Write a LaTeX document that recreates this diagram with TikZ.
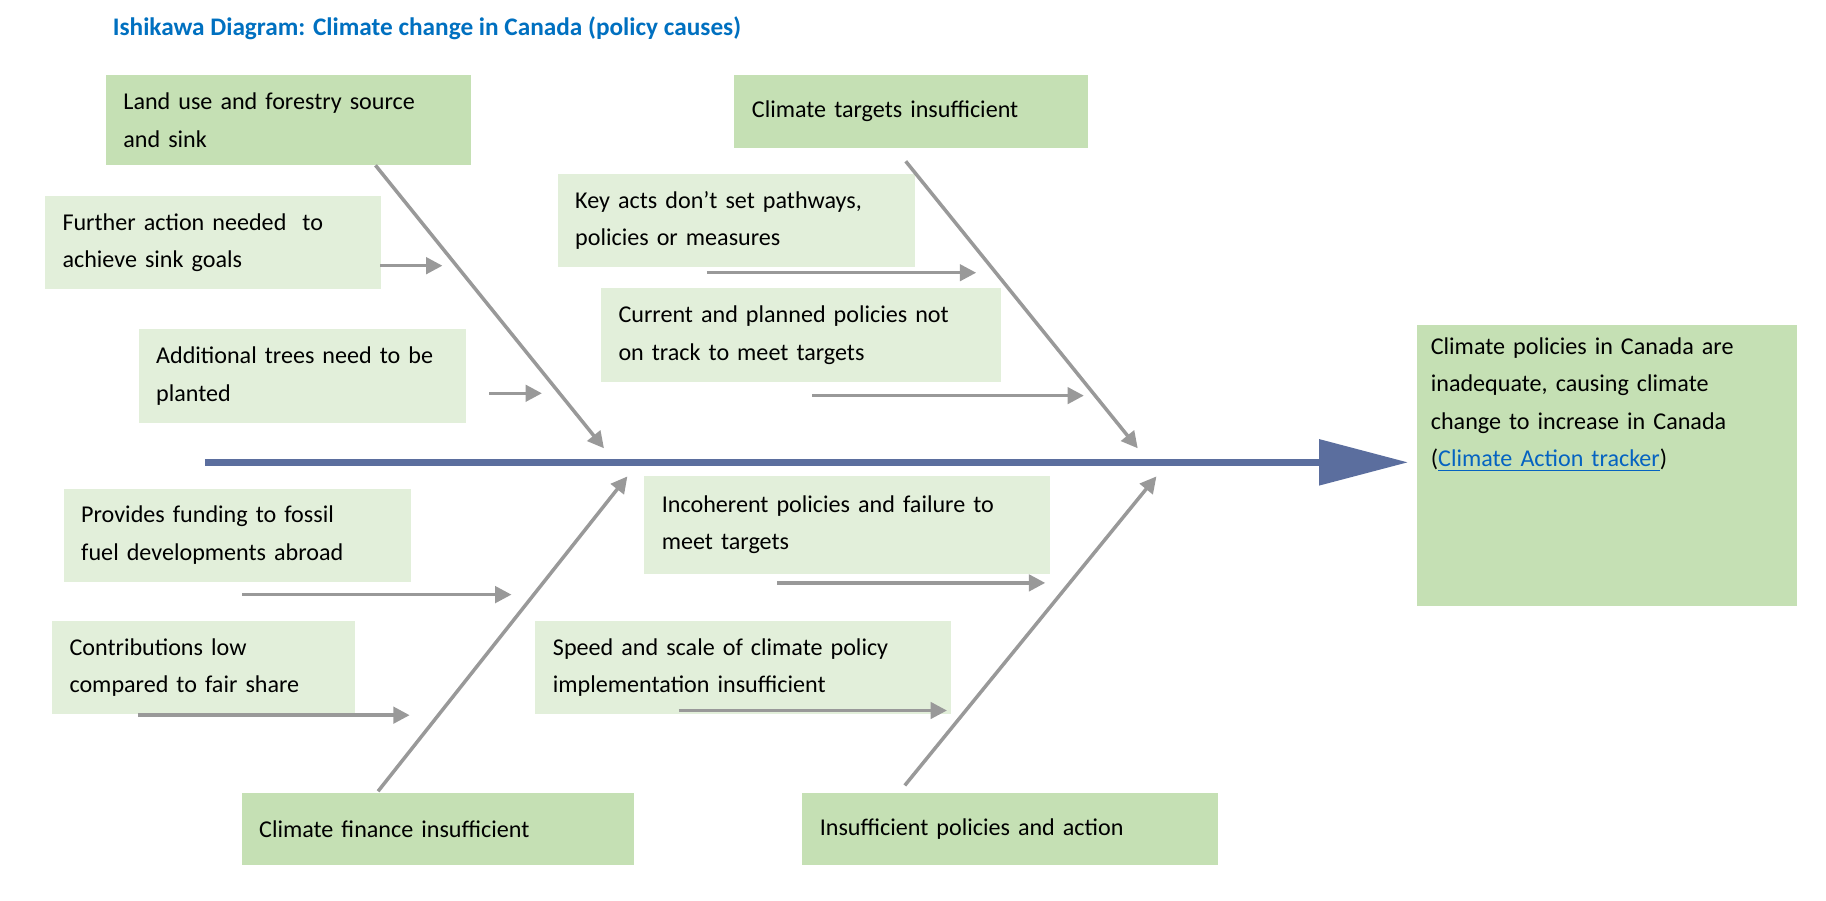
\documentclass[tikz,border=0pt]{standalone}
\usepackage{fontspec}
\setmainfont{Carlito}
\usetikzlibrary{arrows.meta, positioning}
\definecolor{darkgreen}{HTML}{C5E0B4}
\definecolor{lightgreen}{HTML}{E2EFDA}
\definecolor{spineblue}{HTML}{5B6E9E}
\definecolor{bonegray}{HTML}{999999}
\definecolor{titleblue}{HTML}{0070C0}
\definecolor{linkblue}{HTML}{0563C1}
\tikzset{
  cause/.style={fill=lightgreen, anchor=north west, inner sep=7.5pt, align=left,
    font=\fontsize{10.3}{16}\selectfont},
  main cause/.style={cause, fill=darkgreen},
  bone/.style={draw=bonegray, line width=1.5pt, -{Triangle[length=7pt,width=7pt]}},
}
\newcommand{\link}[1]{\textcolor{linkblue}{\underline{#1}}}
\begin{document}
\begin{tikzpicture}[x=0.5pt,y=-0.5pt]
            \useasboundingbox (0,0) rectangle (1560,769);
            \node[anchor=west, font=\fontsize{10.8}{13}\selectfont\bfseries, text=titleblue, inner sep=0] (title) at (96,24) {Ishikawa Diagram: Climate change in Canada (policy causes)};
            
            % main causes
            \node[main cause, text width=141pt, minimum height=36.5pt] (landuse) at (90,64) {Land use and forestry source\\and sink};
            \node[main cause, text width=136pt, minimum height=31pt] (targets) at (627,64) {Climate targets insufficient};
            \node[main cause, text width=152.5pt, minimum height=31pt] (finance) at (206,677) {Climate finance insufficient};
            \node[main cause, text width=162.5pt, minimum height=31pt] (policies) at (685,677) {Insufficient policies and action};
            
            % sub causes
            \node[cause, text width=128.5pt, minimum height=35.5pt] (further) at (38,167) {Further action needed\ \ to\\achieve sink goals};
            \node[cause, text width=125pt, minimum height=36.5pt] (trees) at (118,281) {Additional trees need to be\\planted};
            \node[cause, text width=137.5pt, minimum height=35pt] (keyacts) at (476,148) {Key acts don’t set pathways,\\policies or measures};
            \node[cause, text width=156pt, minimum height=37pt] (current) at (513,246) {Current and planned policies not\\on track to meet targets};
            \node[cause, text width=133.5pt, minimum height=36.5pt] (funding) at (54,417) {Provides funding to fossil\\fuel developments abroad};
            \node[cause, text width=114.5pt, minimum height=34.5pt] (contrib) at (44,530) {Contributions low\\compared to fair share};
            \node[cause, text width=158.5pt, minimum height=42pt] (incoherent) at (550,406) {Incoherent policies and failure to\\meet targets};
            \node[cause, text width=162.5pt, minimum height=34.5pt] (speed) at (457,530) {Speed and scale of climate policy\\implementation insufficient};
            
            % effect
            \node[main cause, text width=147.5pt, minimum height=120pt] (effect) at (1210,277) {};
            \node[cause, fill=none, inner sep=0pt, text width=147.5pt] (effecttext) at (1222,288) {Climate policies in Canada are\\inadequate, causing climate\\change to increase in Canada\\(\link{Climate Action tracker})};
            
            % spine
            \coordinate (tail) at (175,395);
            \coordinate (head) at (1203,395);
            \draw[spineblue, line width=3pt, -{Triangle[length=38pt,width=19pt]}] (tail) -- (head);
            
            % bones
            \coordinate (b1) at (516,383);
            \coordinate (b2) at (972,383);
            \coordinate (b3) at (536,407);
            \coordinate (b4) at (988,407);
            \draw[bone] (landuse.south east) ++(-82,0) -- (b1);
            \draw[bone] (targets.south east) ++(-156,11) -- (b2);
            \draw[bone] (finance.north west) ++(117,-1) -- (b3);
            \draw[bone] (policies.north west) ++(88,-6) -- (b4);
            
            % small arrows
            \draw[bone] (325,227) -- (378,227);
            \draw[bone] (418,336) -- (463,336);
            \draw[bone] (604,233) -- (834,233);
            \draw[bone] (694,338) -- (926,338);
            \draw[bone] (207,508) -- (437,508);
            \draw[bone] (118,611) -- (350,611);
            \draw[bone] (664,498) -- (893,498);
            \draw[bone] (580,607) -- (809,607);
        \end{tikzpicture}
\end{document}
